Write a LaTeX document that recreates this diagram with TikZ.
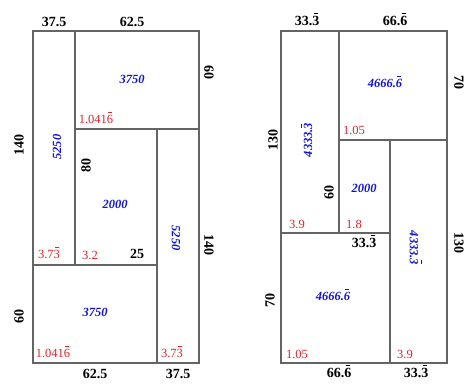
\documentclass[tikz,border=0pt]{standalone}
\usepackage{fontspec}
\setmainfont{Liberation Serif}
\newcommand\rpt[1]{\ooalign{#1\cr\hfil\raisebox{0.86em}{\rule{0.32em}{0.06em}}\hfil\cr}}
\definecolor{areablue}{RGB}{20,20,215}
\definecolor{ratiored}{RGB}{225,35,45}
\definecolor{edgegray}{RGB}{100,100,100}
\tikzset{cut/.style={line width = 1.1pt, color=edgegray},
         dim/.style={font=\fontsize{14}{14}\selectfont\bfseries, inner sep=0pt},
         area/.style={font=\fontsize{12.5}{13}\selectfont\itshape\bfseries, color=areablue, inner sep=0pt},
         ratio/.style={font=\fontsize{12.5}{13}\selectfont, color=ratiored, inner sep=0pt}}

\begin{document}
\begin{tikzpicture}[x=1pt, y=-1pt]
\useasboundingbox (0,0) rectangle (474,391);
% left layout
\draw[cut] (33,31) rectangle (199,363);
\draw[cut] (75,31) -- (75,265) (75,129) -- (199,129)
           (157,129) -- (157,363) (33,265) -- (157,265);
\node[dim] (lt1) at (54,22) {37.5};
\node[dim] (lt2) at (132,22) {62.5};
\node[dim, rotate=-90] (lr1) at (209,72) {60};
\node[dim, rotate=-90] (lr2) at (209,245) {140};
\node[dim, rotate=90] (ll1) at (19,145) {140};
\node[dim, rotate=90] (ll2) at (19,316) {60};
\node[dim] (lb1) at (95,374) {62.5};
\node[dim] (lb2) at (178,374) {37.5};
\node[dim, rotate=90] (lin1) at (86,165) {80};
\node[dim] (lin2) at (137,254) {25};
\node[area, rotate=90] (la1) at (57,147) {5250};
\node[area] (la2) at (132,79) {3750};
\node[area] (la3) at (115,204) {2000};
\node[area, rotate=-90] (la4) at (176,238) {5250};
\node[area] (la5) at (95,312) {3750};
\node[ratio] (lq1) at (96,119) {1.041\rpt{6}};
\node[ratio] (lq2) at (49,254) {3.7\rpt{3}};
\node[ratio] (lq3) at (90,255) {3.2};
\node[ratio] (lq4) at (53,353) {1.041\rpt{6}};
\node[ratio] (lq5) at (172,353) {3.7\rpt{3}};
% right layout
\draw[cut] (281,31) rectangle (447,363);
\draw[cut] (339,31) -- (339,233) (339,140) -- (447,140)
           (390,140) -- (390,363) (281,233) -- (390,233);
\node[dim] (rt1) at (307,21) {33.\rpt{3}};
\node[dim] (rt2) at (395,21) {66.\rpt{6}};
\node[dim, rotate=-90] (rr1) at (459,82) {70};
\node[dim, rotate=-90] (rr2) at (459,243) {130};
\node[dim, rotate=90] (rl1) at (273,140) {130};
\node[dim, rotate=90] (rl2) at (270,300) {70};
\node[dim] (rb1) at (339,373) {66.\rpt{6}};
\node[dim] (rb2) at (416,373) {33.\rpt{3}};
\node[dim, rotate=90] (rin1) at (329,192) {60};
\node[dim] (rin2) at (364,243) {33.\rpt{3}};
\node[area] (ra1) at (385,83) {4666.\rpt{6}};
\node[area, rotate=90] (ra2) at (308,140) {4333.\rpt{3}};
\node[area] (ra3) at (364,188) {2000};
\node[area, rotate=-90] (ra4) at (414,248) {4333.\rpt{3}};
\node[area] (ra5) at (333,296) {4666.\rpt{6}};
\node[ratio] (rq1) at (354,130) {1.05};
\node[ratio] (rq2) at (297,224) {3.9};
\node[ratio] (rq3) at (354,224) {1.8};
\node[ratio] (rq4) at (297,354) {1.05};
\node[ratio] (rq5) at (405,354) {3.9};
\end{tikzpicture}
\end{document}
